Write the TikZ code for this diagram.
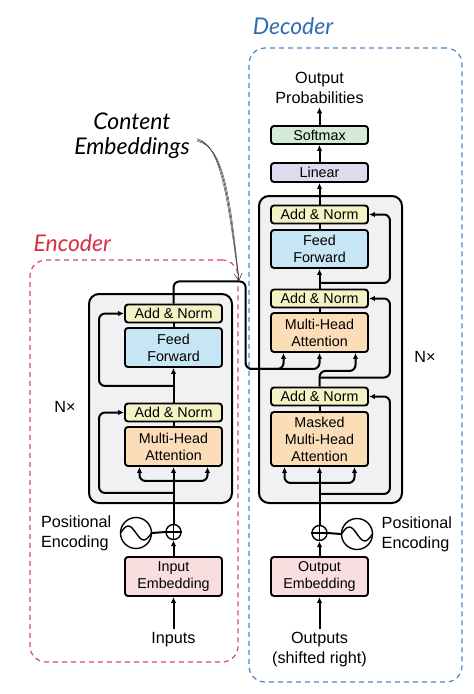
\documentclass[tikz,border=0pt]{standalone}
\usepackage{fontspec}
\setmainfont{Liberation Sans}
\newfontfamily\handfont{Lato}
\usetikzlibrary{arrows.meta,calc,positioning}

\definecolor{normcol}{HTML}{F2F4C6}
\definecolor{ffcol}{HTML}{C7E6F5}
\definecolor{attcol}{HTML}{FBDDB8}
\definecolor{embcol}{HTML}{F9DEE0}
\definecolor{softcol}{HTML}{D3EBD7}
\definecolor{lincol}{HTML}{DCDCEE}
\definecolor{nxcol}{HTML}{F1F1F4}
\definecolor{encred}{HTML}{E0485E}
\definecolor{decblue}{HTML}{4A88C8}
\definecolor{enclab}{HTML}{D63045}
\definecolor{declab}{HTML}{2E6DB4}

\tikzset{
  block/.style={draw, line width=1.9pt, rounded corners=3pt, minimum width=97pt,
    inner sep=0pt, align=center, font=\fontsize{14.3}{17}\selectfont},
  layerbox/.style={draw, line width=2pt, rounded corners=10pt, fill=nxcol, minimum width=143pt},
  region/.style={draw, dash pattern=on 5pt off 4pt, line width=1.2pt, rounded corners=16pt, inner sep=0pt},
  txt/.style={align=center, font=\fontsize{16.2}{20}\selectfont},
  handtxt/.style={align=center, font=\handfont\itshape\fontsize{23}{25}\selectfont},
  wire/.style={line width=2pt, rounded corners=6pt},
  wirearr/.style={wire, -{Latex[length=6pt,width=5.5pt]}},
  addcirc/.style={draw, circle, line width=1.4pt, fill=white, minimum size=15pt, inner sep=0pt},
  poscirc/.style={draw, circle, line width=1.4pt, fill=white, minimum size=31pt, inner sep=0pt},
}

\begin{document}
\begin{tikzpicture}[x=1pt, y=-1pt]
    \fill[white] (0,0) rectangle (474,694);
    \useasboundingbox (0,0) rectangle (474,694);

    \node[region, draw=encred, minimum width=208pt, minimum height=402pt] (encbox) at (134,461) {};
    \node[region, draw=decblue, minimum width=213pt, minimum height=634pt] (decbox) at (355.5,365) {};
    \node[handtxt, text=enclab, anchor=west] (enclabel) at (30,243) {Encoder};
    \node[handtxt, text=declab] (declabel) at (293,26) {Decoder};

    \node[layerbox, minimum height=209pt] (enx) at (160.5,398.5) {};
    \node[layerbox, minimum height=307pt] (dnx) at (330.5,349.5) {};
    \node[txt] (enxlabel) at (65,407) {N×};
    \node[txt] (dnxlabel) at (425,357) {N×};

    % encoder
    \node[block, fill=normcol, minimum height=18pt] (ean2) at (173.5,313.5) {Add \& Norm};
    \node[block, fill=ffcol, minimum height=39pt] (eff) at (173.5,347.5) {Feed\\Forward};
    \node[block, fill=normcol, minimum height=18pt] (ean1) at (173.5,412.5) {Add \& Norm};
    \node[block, fill=attcol, minimum height=39pt] (emha) at (173.5,446.5) {Multi-Head\\Attention};
    \node[block, fill=embcol, minimum height=39pt] (eemb) at (173.5,576.5) {Input\\Embedding};
    \node[addcirc] (eplus) at (173.5,532) {};
    \node[poscirc] (epos) at (136,533) {};
    \node[txt, align=left, left=5pt of epos] (eposlabel) {Positional\\Encoding};
    \node[txt] (ein) at (173.5,640) {Inputs};

    % decoder
    \node[txt] (dprob) at (319.5,88) {Output\\Probabilities};
    \node[block, fill=softcol, minimum height=18pt] (dsoft) at (319.5,135) {Softmax};
    \node[block, fill=lincol, minimum height=19pt] (dlin) at (319.5,172.5) {Linear};
    \node[block, fill=normcol, minimum height=18pt] (dan3) at (319.5,214.5) {Add \& Norm};
    \node[block, fill=ffcol, minimum height=38pt] (dff) at (319.5,249) {Feed\\Forward};
    \node[block, fill=normcol, minimum height=18pt] (dan2) at (319.5,298.5) {Add \& Norm};
    \node[block, fill=attcol, minimum height=39pt] (dmha) at (319.5,332.5) {Multi-Head\\Attention};
    \node[block, fill=normcol, minimum height=18pt] (dan1) at (319.5,396.5) {Add \& Norm};
    \node[block, fill=attcol, minimum height=54pt] (dmmha) at (319.5,439) {Masked\\Multi-Head\\Attention};
    \node[block, fill=embcol, minimum height=39pt] (demb) at (319.5,576.5) {Output\\Embedding};
    \node[addcirc] (dplus) at (319.5,533) {};
    \node[poscirc] (dpos) at (357,534) {};
    \node[txt, align=left, right=5pt of dpos] (dposlabel) {Positional\\Encoding};
    \node[txt] (dout) at (319.5,650) {Outputs\\(shifted right)};

    \foreach \p in {eplus, dplus} {
    \draw[line width=1.4pt] (\p.north) -- (\p.south) (\p.west) -- (\p.east);
    }
    \foreach \p in {epos, dpos} {
    \draw[line width=1.4pt, shift={(\p.center)}] (-15.5,0) sin (-7.75,-7) cos (0,0) sin (7.75,7) cos (15.5,0);
    }

    \draw[wirearr] (ein) -- (eemb);
    \draw[wirearr] (eemb) -- (eplus);
    \draw[wire] (epos.east) -- (eplus.west);
    \draw[wirearr] (eplus) -- (emha);
    \draw[wirearr] ($(emha.south)+(0,14)$) -| ($(emha.south)+(-34,0)$);
    \draw[wirearr] ($(emha.south)+(0,14)$) -| ($(emha.south)+(34,0)$);
    \draw[wirearr] ($(emha.south)+(0,26)$) -| ($(ean1.west)+(-25,0)$) -- (ean1.west);
    \draw[wire] (emha) -- (ean1);
    \draw[wirearr] (ean1) -- (eff);
    \draw[wirearr] ($(eff.south)+(0,18)$) -| ($(ean2.west)+(-25,0)$) -- (ean2.west);
    \draw[wire] (eff) -- (ean2);
    \draw[wirearr] (ean2.north) |- ($(encbox.north east)+(7,22)$) |- ($(dmha.south)+(0,16)$) -- (dmha.south);
    \draw[wirearr] ($(dmha.south)+(-70,16)$) -| ($(dmha.south)+(-36,0)$);

    \draw[wirearr] (dout) -- (demb);
    \draw[wirearr] (demb) -- (dplus);
    \draw[wire] (dpos.west) -- (dplus.east);
    \draw[wirearr] (dplus) -- (dmmha);
    \draw[wirearr] ($(dmmha.south)+(0,16)$) -| ($(dmmha.south)+(-35,0)$);
    \draw[wirearr] ($(dmmha.south)+(0,16)$) -| ($(dmmha.south)+(35,0)$);
    \draw[wirearr] ($(dmmha.south)+(0,27)$) -| ($(dan1.east)+(21,0)$) -- (dan1.east);
    \draw[wire] (dmmha) -- (dan1);
    \draw[wirearr] (dan1.north) |- ($(dmha.south)+(36,18)$) -- ($(dmha.south)+(36,0)$);
    \draw[wirearr] ($(dan1.north)+(0,-9)$) -| ($(dan2.east)+(21,0)$) -- (dan2.east);
    \draw[wire] (dmha) -- (dan2);
    \draw[wirearr] (dan2) -- (dff);
    \draw[wirearr] ($(dff.south)+(0,14)$) -| ($(dan3.east)+(21,0)$) -- (dan3.east);
    \draw[wire] (dff) -- (dan3);
    \draw[wirearr] (dan3) -- (dlin);
    \draw[wirearr] (dlin) -- (dsoft);
    \draw[wirearr] (dsoft) -- (dprob);

    % content embeddings note
    \node[handtxt] (cemb) at (132,136) {Content\\Embeddings};
    \coordinate (ctip) at (239,281);
    \foreach \s in {-1.5,1.5} {
    \draw[line width=0.5pt, black!65] ($(cemb.east)+(4,4+\s)$) .. controls ($(cemb.east)+(30+\s,10)$) and ($(ctip)+(-10+\s,-80)$) .. (ctip);
    }
    \draw[line width=0.6pt, black!75, -{Straight Barb[length=7pt,width=8pt]}] ($(cemb.east)+(4,4)$) .. controls ($(cemb.east)+(30,10)$) and ($(ctip)+(-10,-80)$) .. (ctip);
\end{tikzpicture}
\end{document}
